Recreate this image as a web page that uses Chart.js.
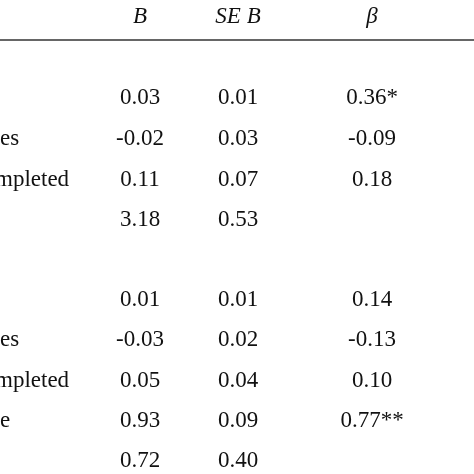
<!DOCTYPE html>
<html><head><meta charset="utf-8">
<script src="https://cdn.jsdelivr.net/npm/chart.js@4"></script>
<style>html,body{margin:0;padding:0;background:#fff}#w{width:474px;height:474px}</style>
</head><body><div id="w"><canvas id="c"></canvas></div>
<script>
const headers = ["B", "SE B", "β"];
const rowLabels = ["", "es", "mpleted", "", "", "", "es", "mpleted", "e", ""];
const colB = ["0.03", "-0.02", "0.11", "3.18", "", "0.01", "-0.03", "0.05", "0.93", "0.72"];
const colSE = ["0.01", "0.03", "0.07", "0.53", "", "0.01", "0.02", "0.04", "0.09", "0.40"];
const colBeta = ["0.36*", "-0.09", "0.18", "", "", "0.14", "-0.13", "0.10", "0.77**", ""];
const rowY = [98, 139, 180, 220, 260, 300, 340, 381, 421, 461];
const colX = [140, 238, 372];
const labelX = [0, 0, -5, 0, 0, 0, 0, -5, 0, 0];

const tablePlugin = {
  id: 'table',
  afterDraw(chart) {
    const ctx = chart.ctx, xs = chart.scales.x, ys = chart.scales.y;
    ctx.save();
    ctx.fillStyle = '#111';
    ctx.textBaseline = 'middle';
    ctx.font = 'italic 23px "Liberation Serif"';
    ctx.textAlign = 'center';
    headers.forEach((h, i) => ctx.fillText(h, xs.getPixelForValue(colX[i]), ys.getPixelForValue(17)));
    ctx.strokeStyle = '#333'; ctx.lineWidth = 1.5;
    ctx.beginPath(); ctx.moveTo(xs.getPixelForValue(0), ys.getPixelForValue(40));
    ctx.lineTo(xs.getPixelForValue(474), ys.getPixelForValue(40)); ctx.stroke();
    ctx.font = '23px "Liberation Serif"';
    [colB, colSE, colBeta].forEach((col, ci) => col.forEach((v, ri) => {
      if (v) ctx.fillText(v, xs.getPixelForValue(colX[ci]), ys.getPixelForValue(rowY[ri]));
    }));
    ctx.textAlign = 'left';
    rowLabels.forEach((l, ri) => { if (l) ctx.fillText(l, xs.getPixelForValue(labelX[ri]), ys.getPixelForValue(rowY[ri])); });
    ctx.restore();
  }
};

new Chart(document.getElementById('c'), {
  type: 'scatter',
  data: { datasets: [{ data: [], pointRadius: 0 }] },
  options: {
    responsive: true, maintainAspectRatio: false, animation: false,
    layout: { padding: 0 },
    plugins: { legend: { display: false }, tooltip: { enabled: false } },
    scales: {
      x: { type: 'linear', min: 0, max: 474, display: false },
      y: { type: 'linear', min: 0, max: 474, reverse: true, display: false }
    }
  },
  plugins: [tablePlugin]
});
</script></body></html>
